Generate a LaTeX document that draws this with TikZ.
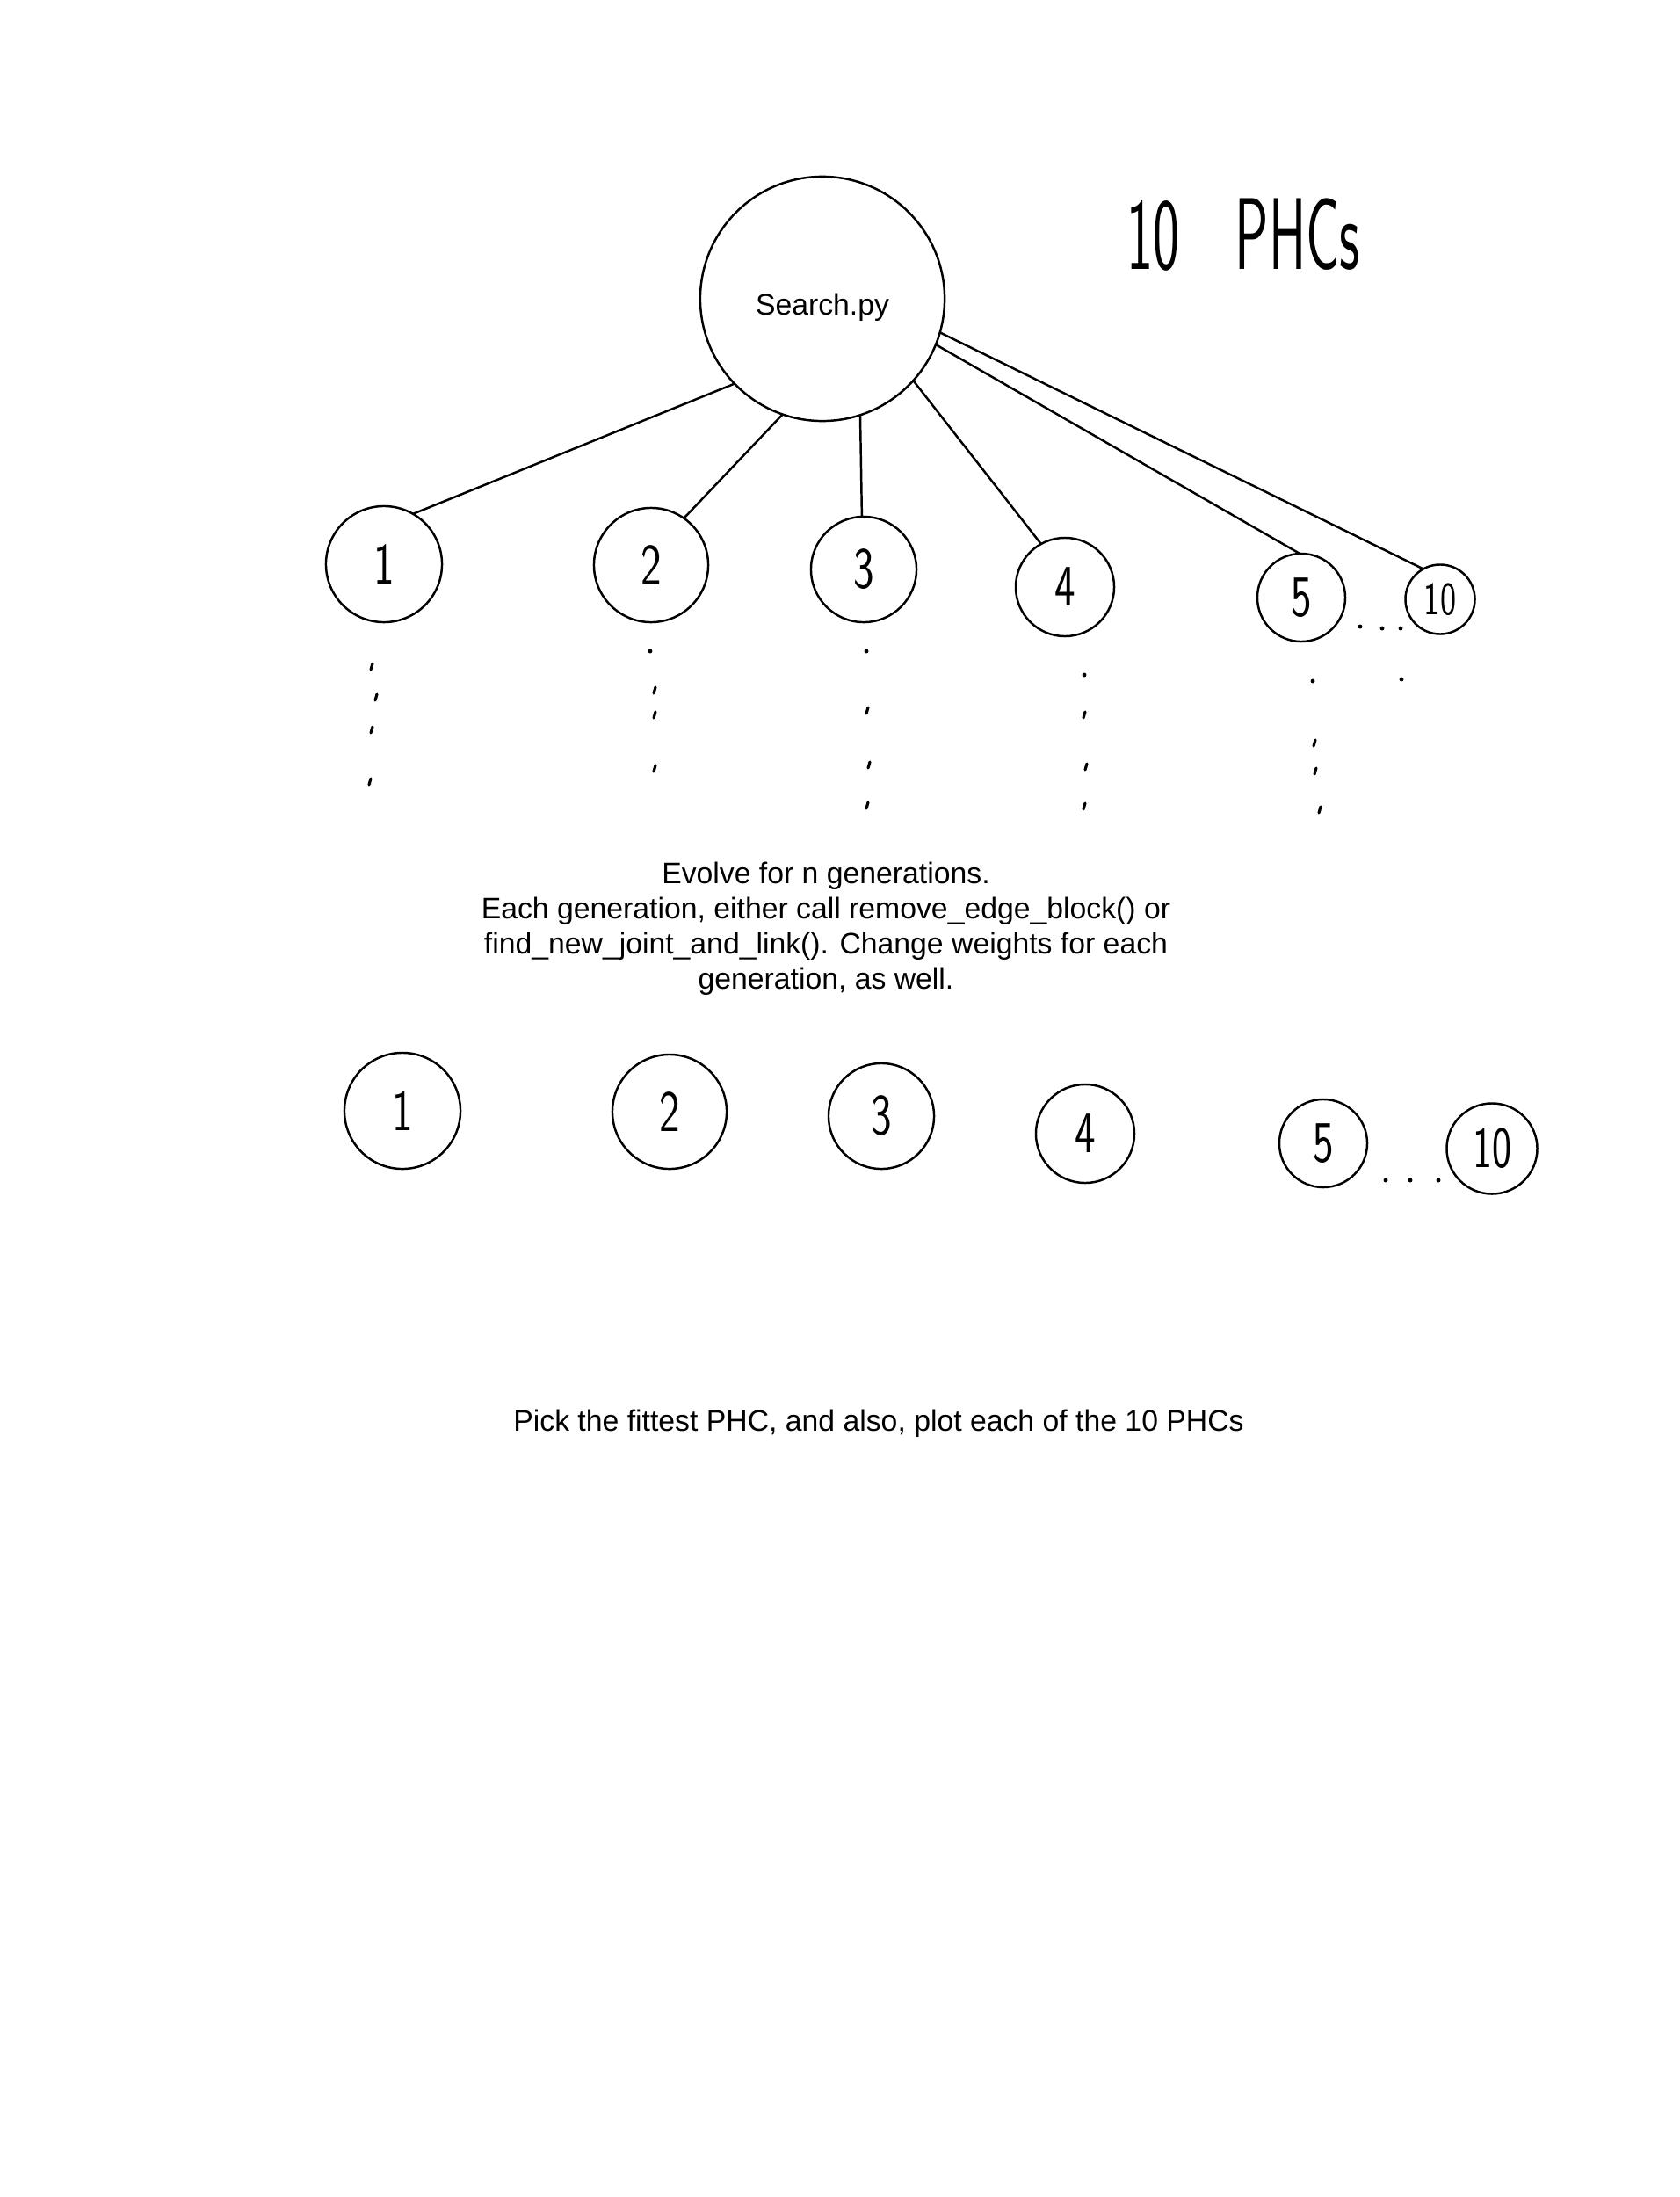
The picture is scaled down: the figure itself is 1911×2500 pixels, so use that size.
\documentclass[tikz,border=0pt]{standalone}
\usepackage{fontspec}
\setmainfont{Liberation Sans}

\newcommand{\hand}[2][0.75]{\scalebox{#1}[1]{\sffamily\fontsize{19}{19}\selectfont #2}}

\begin{document}
\begin{tikzpicture}[x=0.01cm,y=-0.01cm]

\tikzstyle{phc}=[draw,circle,line width=0.7pt,inner sep=0pt,outer sep=0pt]
\tikzstyle{link}=[line width=0.7pt]
\tikzstyle{tick}=[line width=0.9pt,line cap=round]
\tikzstyle{txt}=[font=\fontsize{9.6}{11.4}\selectfont,inner sep=0pt]

\fill [white] (0,0) rectangle (1911,2500);
\useasboundingbox (0,0) rectangle (1911,2500);

% Search.py

\node (search) [phc,txt,minimum size=2.78cm,text height=0.36cm,text depth=0pt] at (936,340) {Search.py};

\node (note) [inner sep=0pt,anchor=base] at (1415,306) {\scalebox{0.55}[1]{\sffamily\fontsize{33}{33}\selectfont 10\quad PHCs}};

% PHC - start

\node (c1) [phc,minimum size=1.32cm] at (437,642) {\hand{1}};
\node (c2) [phc,minimum size=1.30cm] at (741,643) {\hand{2}};
\node (c3) [phc,minimum size=1.20cm] at (983,648) {\hand{3}};
\node (c4) [phc,minimum size=1.12cm] at (1212,668) {\hand{4}};
\node (c5) [phc,minimum size=1.00cm] at (1481,680) {\hand{5}};
\node (c10) [phc,minimum size=0.79cm] at (1639,682) {\hand[0.7]{\fontsize{15}{15}\selectfont 10}};

\draw [link] (search.224) -- (c1.60);
\draw [link] (search.251) -- (c2.55);
\draw [link] (search.288.6) -- (c3.92);
\draw [link] (search.318) -- (c4.119);
\draw [link] (search.338.6) -- (c5.92);
\draw [link] (search.344.4) -- (c10.119);

% Kropki

\foreach \x/\y in {422/762,427/797,422/834,420/893,744/789,744/817,744/878,986/812,988/874,986/920,1233/817,1235/876,1233/921,1495/849,1496/881,1501/925}
  \draw [tick] (\x,\y) -- ++(2,-7);
\foreach \x/\y in {740/741,986/741,1234/768,1494/775,1595/773,1548/713,1573/715,1594/715,1577/1343,1605/1343,1637/1343}
  \fill (\x,\y) circle (0.7pt);

% Opis

\node (evolve) [txt,align=center,anchor=north] at (940,980) {Evolve for n generations.\\Each generation, either call remove\_edge\_block() or\\find\_new\_joint\_and\_link(). Change weights for each\\generation, as well.};

% PHC - end

\node (b1) [phc,minimum size=1.32cm] at (458,1264) {\hand{1}};
\node (b2) [phc,minimum size=1.30cm] at (762,1265) {\hand{2}};
\node (b3) [phc,minimum size=1.20cm] at (1003,1270) {\hand{3}};
\node (b4) [phc,minimum size=1.12cm] at (1235,1290) {\hand{4}};
\node (b5) [phc,minimum size=1.00cm] at (1506,1301) {\hand{5}};
\node (b10) [phc,minimum size=1.03cm] at (1698,1307) {\hand[0.7]{10}};

\node (pick) [txt,anchor=base] at (1000,1628) {Pick the fittest PHC, and also, plot each of the 10 PHCs};

\end{tikzpicture}
\end{document}
